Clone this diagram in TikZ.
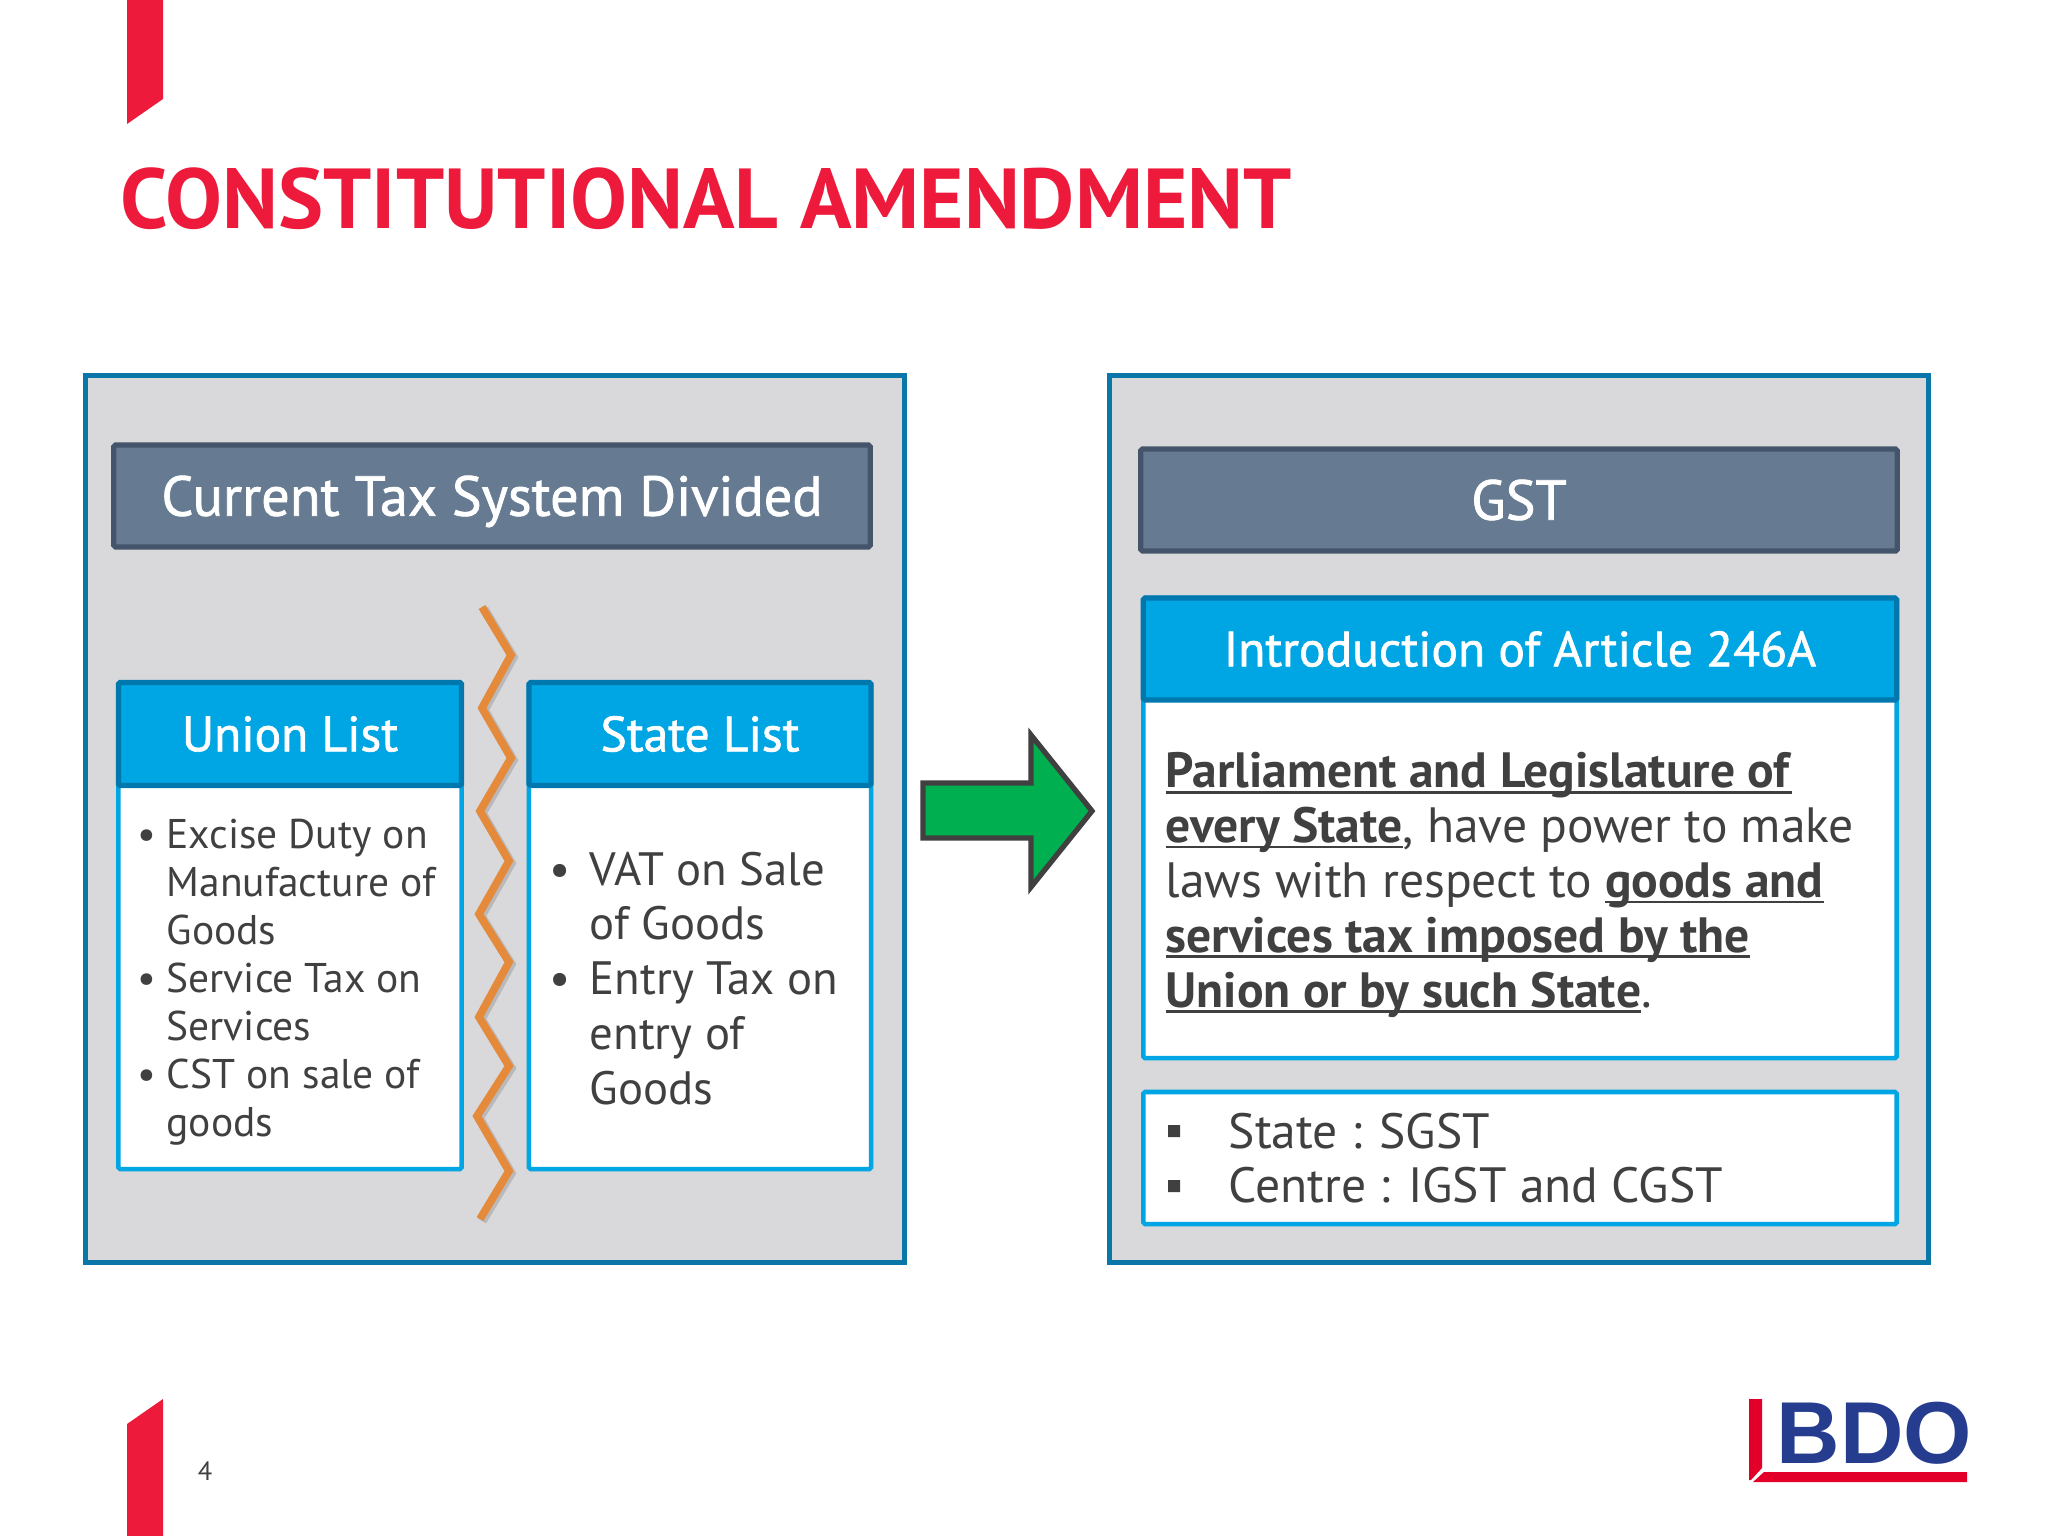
\documentclass[tikz,border=0pt]{standalone}
\usepackage{fontspec}
\setmainfont{PT Sans}
\newfontfamily\medfont[FakeBold=1.3]{PT Sans}
\newfontfamily\logofont{Liberation Sans}
\usetikzlibrary{positioning}
\definecolor{bdored}{HTML}{ED1A3B}
\definecolor{logored}{HTML}{E2002B}
\definecolor{logoblue}{HTML}{263C8F}
\definecolor{panelgrey}{HTML}{D9D9DB}
\definecolor{panelline}{HTML}{0B76A8}
\definecolor{slatefill}{HTML}{667B91}
\definecolor{slateline}{HTML}{44546A}
\definecolor{skyfill}{HTML}{00A5E3}
\definecolor{skyline}{HTML}{0078AE}
\definecolor{bodytext}{HTML}{404040}
\definecolor{zigorange}{HTML}{E5893A}
\definecolor{arrowgreen}{HTML}{00B050}
\newcommand{\fsize}[2]{\fontsize{#1}{#2}\selectfont}
\newcommand{\bul}[1]{\llap{\textbullet\hspace{#1}}}
\newlength{\undlen}
\newcommand{\undbf}[1]{\settowidth{\undlen}{\textbf{#1}}\rlap{\rule[-1.6pt]{\undlen}{0.8pt}}\textbf{#1}}
\newcommand{\zigpath}{(482,607) -- (511,655) -- (482,708) -- (511,758) -- (480,811) -- (509,861) -- (479,914) -- (509,962) -- (479,1017) -- (509,1066) -- (477,1116) -- (509,1171) -- (480,1219)}
\begin{document}
\begin{tikzpicture}[x=0.01cm,y=-0.01cm,
		panel/.style={draw=panelline, line width=1.4pt, fill=panelgrey, minimum width=8.18cm, minimum height=8.87cm, inner sep=0},
		slate/.style={draw=slateline, line width=1.5pt, fill=slatefill, rounded corners=0.5pt, minimum width=7.56cm, minimum height=1.02cm, inner sep=0, text=white, text height=11.2pt, text depth=0pt, font=\medfont\fsize{16}{18}},
		bodybox/.style={draw=skyfill, line width=1.3pt, fill=white, rounded corners=0.5pt, inner sep=0},
		skyhead/.style={draw=skyline, line width=1.5pt, fill=skyfill, rounded corners=0.5pt, inner sep=0, text=white, font=\medfont\fsize{14.1}{16}},
		bodytxt/.style={align=left, text=bodytext, inner sep=0}]
	\useasboundingbox (0,0) rectangle (2048,1536);
	\fill [white] (0,0) rectangle (2048,1536);
	%% Corner marks
	\fill [bdored] (127,0) -- (163,0) -- (163,99) -- (127,124) -- cycle;
	\fill [bdored] (127,1536) -- (163,1536) -- (163,1399) -- (127,1424) -- cycle;
	\node [anchor=base west, inner sep=0, text=bdored, font=\fsize{24.2}{28}\bfseries] at (120,228) (Title) {CONSTITUTIONAL AMENDMENT};
	\node [anchor=base, inner sep=0, text=bodytext, font=\fsize{7.5}{9}] at (205,1480) (PageNo) {4};
	%% Panels
	\node [panel] at (495,819) (LeftPanel) {};
	\node [panel] at (1519,819) (RightPanel) {};
	\node [slate] at (492,496) (CurrentHead) {Current Tax System Divided};
	\node [slate] at (1519,500) (GstHead) {GST};
	%% Left lists
	\node [bodybox, minimum width=3.43cm, minimum height=4.86cm] at (290,926) (UnionBox) {};
	\node [skyhead, minimum width=3.43cm, minimum height=1.03cm] at (290,734) (UnionHead) {Union List};
	\node [bodybox, minimum width=3.42cm, minimum height=4.86cm] at (700,926) (StateBox) {};
	\node [skyhead, minimum width=3.42cm, minimum height=1.03cm] at (700,734) (StateHead) {State List};
	\node [bodytxt, anchor=north west, font=\fsize{11.8}{13.65}] at (166,818) (UnionText) {\bul{3pt}Excise Duty on\\Manufacture of\\Goods\\\bul{3pt}Service Tax on\\Services\\\bul{3pt}CST on sale of\\goods};
	\node [bodytxt, anchor=north west, font=\fsize{13.3}{15.6}] at (589,851) (StateText) {\bul{5.5pt}VAT on Sale\\of Goods\\\bul{5.5pt}Entry Tax on\\entry of\\Goods};
	%% Divider
	\draw [gray, opacity=0.35, line width=2.6pt, miter limit=2, xshift=0.6pt, yshift=-0.6pt] \zigpath;
	\draw [zigorange, line width=2.2pt, miter limit=2] \zigpath;
	%% Arrow between panels
	\draw [draw=bodytext, line width=1.5pt, fill=arrowgreen, miter limit=4] (923,783) -- (1031,783) -- (1031,735) -- (1092,811) -- (1031,887) -- (1031,838) -- (923,838) -- cycle;
	%% Right boxes
	\node [bodybox, minimum width=7.53cm, minimum height=4.6cm] at (1520,828) (ArticleBox) {};
	\node [skyhead, minimum width=7.53cm, minimum height=1.02cm] at (1520,649) (ArticleHead) {Introduction of Article 246A};
	\node [bodytxt, anchor=north west, font=\fsize{14.1}{15.6}] at (1165,752) (ArticleText) {\undbf{Parliament and Legislature of}\\\undbf{every State}, have power to make\\laws with respect to \undbf{goods and}\\\undbf{services tax imposed by the}\\\undbf{Union or by such State}.};
	\node [bodybox, minimum width=7.53cm, minimum height=1.32cm] at (1520,1158) (RegimeBox) {};
	\node [bodytxt, anchor=north west, font=\fsize{14.1}{15.6}] at (1228,1112) (RegimeText) {State : SGST\\Centre : IGST and CGST};
	\fill [bodytext] (1168,1125) rectangle (1180,1137) (1168,1180) rectangle (1180,1192);
	%% Logo
	\fill [logored] (1749,1399) -- (1762,1399) -- (1762,1468) -- (1751,1480) -- (1749,1480) -- cycle;
	\fill [logored] (1764,1472) -- (1967,1472) -- (1967,1482) -- (1753,1482) -- cycle;
	\node [anchor=base west, inner sep=0, text=logoblue, font=\logofont\bfseries\fsize{25}{28}] at (1776,1463) (Logo) {BDO};
\end{tikzpicture}
\end{document}
